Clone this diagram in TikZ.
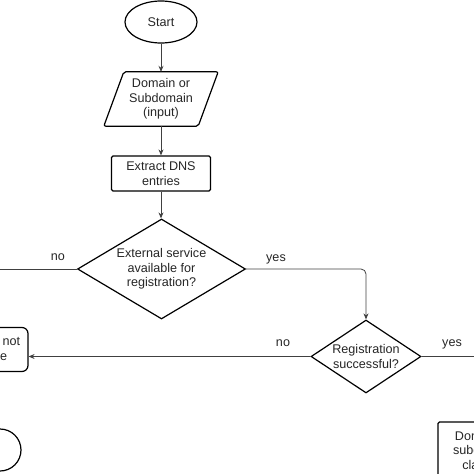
\documentclass[tikz,border=0pt]{standalone}
\usepackage{fontspec}
\setmainfont{Liberation Sans}
\usetikzlibrary{shapes.geometric,arrows.meta}
\begin{document}
\begin{tikzpicture}[x=1pt,y=-1pt,
  txt/.style={font=\fontsize{12.6}{14.5}\selectfont, text=black!85, align=center},
  shapeline/.style={draw=black, line width=1.2pt},
  terminal/.style={txt, shapeline, ellipse, inner sep=0pt, minimum width=72pt, minimum height=42pt},
  procbox/.style={txt, shapeline, rectangle, rounded corners=1.5pt, inner sep=0pt},
  roundbox/.style={txt, shapeline, rectangle, rounded corners=6pt, inner sep=0pt},
  decision/.style={txt, shapeline, diamond, inner sep=0pt},
  edgelabel/.style={txt, inner sep=0pt},
  conn/.style={draw=black!75, line width=0.8pt, -{Stealth[length=6pt,width=5pt]}},
]
\useasboundingbox (0,0) rectangle (474,474);
\clip (0,0) rectangle (474,474);

\node[terminal] (start) at (161,22) {Start};
\node[txt, inner sep=0pt, minimum width=94pt, minimum height=54pt] (input) at (161,99) {Domain or\\Subdomain\\(input)};
\draw[shapeline, rounded corners=2pt]
  ([xshift=10pt]input.north west) -- ([xshift=10pt]input.north east)
  -- ([xshift=-10pt]input.south east) -- ([xshift=-10pt]input.south west) -- cycle;
\node[procbox, minimum width=99pt, minimum height=35pt] (extract) at (161,173.5) {Extract DNS\\entries};
\node[decision, shape aspect=1.68, minimum width=168pt, minimum height=100pt] (avail) at (161.5,269) {External service\\available for\\registration?};
\node[decision, shape aspect=1.5, minimum width=110pt, minimum height=73pt] (reg) at (366,356.5) {Registration\\successful?};
\node[roundbox, minimum width=88pt, minimum height=44pt] (notposs) at (-16,349.5) {Takeover not\\possible};
\node[shapeline, circle, inner sep=0pt, minimum size=42pt] (endnode) at (0,450) {};
\node[procbox, minimum width=92pt, minimum height=56pt] (claimed) at (484,450) {Domain or\\subdomain\\claimed};

\draw[conn] (start.south) -- (start.south |- input.north);
\draw[conn] (input.south) -- (input.south |- extract.north);
\draw[conn] (extract.south) -- (extract.south |- avail.north);
\draw[conn, rounded corners=5pt] (avail.east) -| (reg.north);
\draw[conn] (avail.west) -| (notposs.north);
\draw[conn] (reg.west) -- (reg.west -| notposs.east);
\draw[conn] (reg.east) -| (claimed.north);

\node[edgelabel] (no1) at (58,257) {no};
\node[edgelabel] (yes1) at (276,259) {yes};
\node[edgelabel] (no2) at (283,343) {no};
\node[edgelabel] (yes2) at (452,344) {yes};
\end{tikzpicture}
\end{document}
